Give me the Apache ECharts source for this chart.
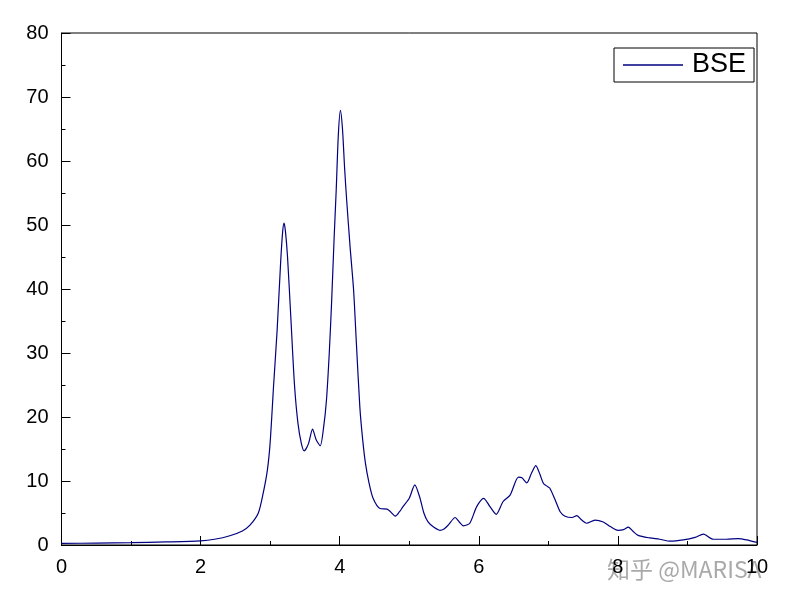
<!DOCTYPE html>
<html>
<head>
<meta charset="utf-8">
<script src="https://cdn.jsdelivr.net/npm/echarts@6/dist/echarts.min.js"></script>
<style>
html,body{margin:0;padding:0;background:#fff;}
#chart{width:788px;height:603px;}
</style>
</head>
<body>
<div id="chart"></div>
<script>
var seriesName = 'BSE';
var xs = [0, 0.5, 1.0, 1.5, 2.0, 2.2, 2.42, 2.6, 2.71, 2.83, 2.90, 2.96, 3.0, 3.05, 3.10, 3.15, 3.18, 3.20, 3.22, 3.25, 3.30, 3.35, 3.40, 3.45, 3.49, 3.55, 3.61, 3.66, 3.72, 3.77, 3.81, 3.85, 3.885, 3.92, 3.95, 3.98, 4.01, 4.04, 4.07, 4.10, 4.15, 4.20, 4.24, 4.29, 4.33, 4.37, 4.42, 4.48, 4.58, 4.68, 4.73, 4.80, 4.86, 4.91, 5.0, 5.08, 5.15, 5.21, 5.27, 5.35, 5.44, 5.50, 5.56, 5.66, 5.72, 5.78, 5.87, 5.97, 6.07, 6.16, 6.25, 6.35, 6.45, 6.57, 6.62, 6.69, 6.76, 6.82, 6.88, 6.93, 6.98, 7.02, 7.10, 7.17, 7.24, 7.34, 7.41, 7.48, 7.55, 7.67, 7.79, 7.89, 8.0, 8.08, 8.15, 8.22, 8.29, 8.46, 8.60, 8.75, 8.94, 9.11, 9.23, 9.37, 9.56, 9.73, 9.85, 10.0];
var ys = [0.25, 0.3, 0.36, 0.48, 0.65, 0.9, 1.45, 2.2, 3.1, 5.0, 8.1, 11.7, 16.0, 25, 33.5, 44, 49, 50.3, 49, 45, 35, 25, 19, 15.8, 14.7, 15.8, 18.1, 16.5, 15.5, 18.5, 22.7, 30, 38.3, 48, 55.5, 64, 67.9, 65, 59, 53.9, 46.5, 39.8, 31.5, 21.5, 16.5, 12.8, 9.8, 7.3, 5.7, 5.6, 5.2, 4.5, 5.2, 6.0, 7.3, 9.4, 7.5, 5.0, 3.6, 2.8, 2.3, 2.5, 3.1, 4.3, 3.6, 3.0, 3.4, 6.0, 7.3, 6.0, 4.8, 6.8, 7.8, 10.6, 10.5, 9.7, 11.3, 12.4, 11.0, 9.6, 9.2, 8.9, 7.0, 5.2, 4.5, 4.3, 4.6, 3.9, 3.4, 3.9, 3.6, 2.9, 2.3, 2.4, 2.8, 2.1, 1.5, 1.1, 0.9, 0.6, 0.8, 1.2, 1.7, 0.9, 0.9, 1.0, 0.8, 0.4];
var xTicks = [0, 2, 4, 6, 8, 10];
var yTicks = [0, 10, 20, 30, 40, 50, 60, 70, 80];

var data = xs.map(function (x, i) { return [x, ys[i]]; });
var chart = echarts.init(document.getElementById('chart'), null, {renderer: 'canvas'});
var font = 'Liberation Sans, Arial, sans-serif';
chart.setOption({
  animation: false,
  backgroundColor: '#fff',
  grid: {left: 61.5, right: 31, top: 33, bottom: 58, show: true, borderColor: '#000', borderWidth: 1, backgroundColor: 'transparent'},
  legend: {
    left: 614, top: 48,
    data: [{name: seriesName, icon: 'rect'}],
    itemWidth: 60, itemHeight: 1.3,
    padding: [3, 8, 3, 9],
    borderColor: '#000', borderWidth: 1,
    itemGap: 0,
    textStyle: {fontFamily: font, fontSize: 27, color: '#000', padding: [0, 0, 0, 4], lineHeight: 28}
  },
  xAxis: {
    type: 'value', min: xTicks[0], max: xTicks[xTicks.length - 1], interval: 2,
    axisLine: {show: true, lineStyle: {color: '#000', width: 1}},
    axisTick: {show: true, inside: true, length: 9, lineStyle: {color: '#000'}},
    minorTick: {show: true, splitNumber: 2, length: 4, lineStyle: {color: '#000'}},
    splitLine: {show: false},
    axisLabel: {fontFamily: font, fontSize: 20, color: '#000', margin: 12}
  },
  yAxis: {
    type: 'value', min: yTicks[0], max: yTicks[yTicks.length - 1], interval: 10,
    axisLine: {show: true, lineStyle: {color: '#000', width: 1}},
    axisTick: {show: true, inside: true, length: 9, lineStyle: {color: '#000'}},
    minorTick: {show: true, splitNumber: 2, length: 4, lineStyle: {color: '#000'}},
    splitLine: {show: false},
    axisLabel: {fontFamily: font, fontSize: 20, color: '#000', margin: 13}
  },
  series: [{
    name: seriesName, type: 'line', data: data,
    showSymbol: false, symbol: 'none',
    smooth: 0.25,
    lineStyle: {color: '#000080', width: 1.2},
    itemStyle: {color: '#000080'}
  }],
  graphic: [{
    type: 'text', left: 607, top: 558, silent: true,
    style: {text: '知乎 @MARISA', font: '23px "Noto Sans CJK SC", sans-serif', fill: 'rgba(140,140,140,0.75)'}
  }]
});
</script>
</body>
</html>
